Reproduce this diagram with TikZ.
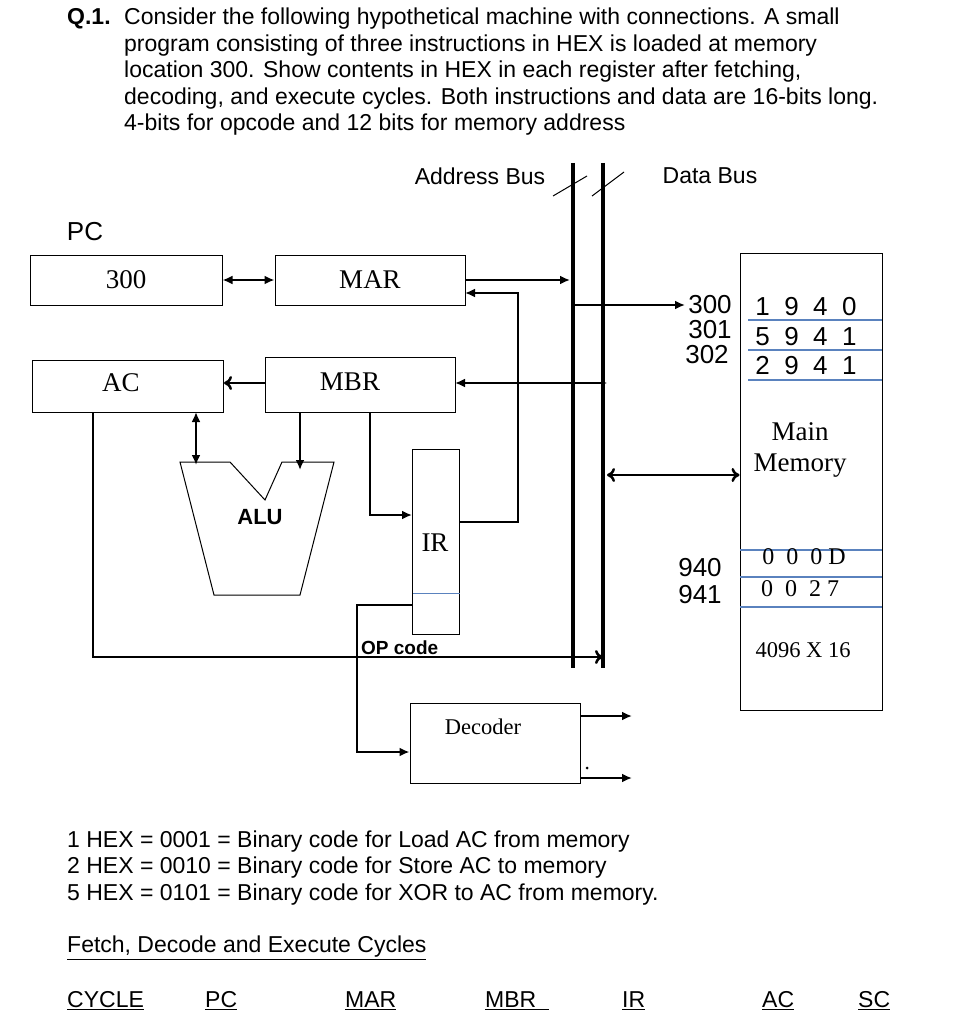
\documentclass[tikz,border=0pt]{standalone}
\usepackage{fontspec}
\setmainfont{Liberation Serif}
\newfontfamily\sans{Liberation Sans}
\usetikzlibrary{arrows.meta}
\begin{document}
\begin{tikzpicture}[x=1pt,y=-1pt,
  reg/.style={draw,line width=1pt,inner sep=0},
  ln/.style={line width=2.5pt},
  bus/.style={line width=4.5pt},
  blue/.style={draw={rgb,255:red,90;green,130;blue,190},line width=2pt},
  sa/.style={ln,-{Latex[length=10pt,width=9pt]}},
  oa/.style={ln,-{To[length=8pt,width=14pt]}},
  st/.style={font=\sans\fontsize{23}{26.5}\selectfont,inner sep=0,anchor=west},
  big/.style={font=\sans\fontsize{26}{30}\selectfont,inner sep=0,anchor=center},
  rt/.style={font=\fontsize{27}{31}\selectfont,inner sep=0}]
\useasboundingbox (0,0) rectangle (961,1024);
% title
\node[st,anchor=north west] (q) at (67,8) {\textbf{Q.1.}};
\node[st,anchor=north west,align=left] (qt) at (124,8) {Consider the following hypothetical machine with connections. A small\\program consisting of three instructions in HEX is loaded at memory\\location 300. Show contents in HEX in each register after fetching,\\decoding, and execute cycles. Both instructions and data are 16-bits long.\\4-bits for opcode and 12 bits for memory address};
\node[st,anchor=center] (ab) at (480,176) {Address Bus};
\node[st,anchor=center] (db) at (710,176) {Data Bus};
\node[big] (pcl) at (85,232) {PC};
% buses
\coordinate (a1) at (573,163); \coordinate (a2) at (573,668);
\coordinate (d1) at (603,163); \coordinate (d2) at (603,668);
\draw[bus] (a1) -- (a2); \draw[bus] (d1) -- (d2);
\coordinate (s1) at (553,196); \coordinate (s2) at (587,176);
\coordinate (s3) at (592,196); \coordinate (s4) at (624,172);
\draw[line width=1pt] (s1) -- (s2); \draw[line width=1pt] (s3) -- (s4);
% registers
\node[reg,minimum width=192pt,minimum height=50pt,rt] (pc) at (126,280) {300};
\node[reg,minimum width=190pt,minimum height=50pt,rt] (mar) at (370,280) {MAR};
\node[reg,minimum width=191pt,minimum height=52pt] (ac) at (128,386) {};
\node[rt] (acl) at (121,383) {AC};
\node[reg,minimum width=190pt,minimum height=55pt] (mbr) at (360,385) {};
\node[rt] (mbrl) at (350,382) {MBR};
\node[reg,minimum width=47pt,minimum height=185pt] (ir) at (436,542) {};
\node[rt] (irl) at (435,543) {IR};
\coordinate (irb1) at (413,593); \coordinate (irb2) at (460,593);
\draw[blue,line width=1pt] (irb1) -- (irb2);
\node[reg,minimum width=170pt,minimum height=80pt] (dec) at (495,743) {};
\node[rt,font=\fontsize{22.5}{26}\selectfont] (decl) at (483,727) {Decoder};
% ALU
\draw[line width=1pt] (180,462) -- (230,462) -- (265,500) -- (282,462) -- (334,462) -- (300,595) -- (214,595) -- cycle;
\node[st,anchor=center,font=\sans\bfseries\fontsize{22}{26}\selectfont] (alu) at (260,517) {ALU};
% connections
\draw[ln,{Latex[length=10pt,width=9pt]}-{Latex[length=10pt,width=9pt]}] (pc.east) -- (mar.west);
\coordinate (mb) at (570,280);
\draw[sa] (mar.east) -- (mb);
\coordinate (ir1) at (518,522); \coordinate (ir2) at (518,293);
\draw[sa] (460,522) -- (ir1) -- (ir2) -- (465,293);
\draw[oa] (mbr.west |- 0,383) -- (ac.east |- 0,383);
\coordinate (dmb) at (607,383);
\draw[ln,{Latex[length=10pt,width=9pt]}-{Latex[length=6pt,width=6pt]}] (455,383) -- (dmb);
\draw[ln,{Latex[length=10pt,width=9pt]}-{Latex[length=10pt,width=9pt]}] (196,412) -- (196,465);
\draw[sa] (300,412) -- (300,470);
\coordinate (m1) at (370,515);
\draw[sa] (370,412) -- (m1) -- (ir.west |- m1);
\coordinate (o1) at (357,605); \coordinate (o2) at (357,752);
\draw[sa] (ir.west |- o1) -- (o1) -- (o2) -- (dec.west |- o2);
\node[st,font=\sans\bfseries\fontsize{19}{22}\selectfont] (op) at (361,648) {OP code};
\coordinate (c1) at (93,657); \coordinate (c2) at (603,657);
\draw[oa] (93,412) -- (c1) -- (c2);
\coordinate (do1) at (632,716); \coordinate (do2) at (632,778);
\draw[sa] (dec.east |- do1) -- (do1);
\draw[sa] (dec.east |- do2) -- (do2);
\fill (587,768) circle (1.5pt);
% memory
\node[reg,minimum width=142pt,minimum height=457pt] (mem) at (811,482) {};
\coordinate (m300) at (685,305);
\draw[sa] (573,305) -- (m300);
\draw[ln,{To[length=8pt,width=14pt]}-{To[length=8pt,width=14pt]}] (607,475) -- (mem.west |- 0,475);
\foreach \y in {320,350,380} \draw[blue] (748,\y) -- (882,\y);
\foreach \y in {550,577,607} \draw[blue] (740,\y) -- (882,\y);
\node[big] (a300) at (710,305) {300};
\node[big] (a301) at (710,330) {301};
\node[big] (a302) at (707,355) {302};
\node[big] (v300) at (806,307) {1\ \ 9\ \ 4\ \ 0};
\node[big] (v301) at (806,337) {5\ \ 9\ \ 4\ \ 1};
\node[big] (v302) at (806,366) {2\ \ 9\ \ 4\ \ 1};
\node[rt,align=center] (mm) at (800,450) {Main\\Memory};
\node[big] (a940) at (700,568) {940};
\node[big] (a941) at (700,595) {941};
\node[rt,font=\fontsize{24}{28}\selectfont] (v940) at (804,557) {0\ \ 0\ \ 0 D};
\node[rt,font=\fontsize{24}{28}\selectfont] (v941) at (800,589) {0\ \ 0\ \ 2 7};
\node[rt,font=\fontsize{22.5}{26}\selectfont] (sz) at (803,650) {4096 X 16};
% bottom text
\node[st,anchor=west,align=left] (codes) at (67,868) {1 HEX = 0001 = Binary code for Load AC from memory\\2 HEX = 0010 = Binary code for Store AC to memory\\5 HEX = 0101 = Binary code for XOR to AC from memory.};
\node[st] (fd) at (67,948) {\underline{Fetch, Decode and Execute Cycles}};
\node[st] (h1) at (67,1001) {\underline{CYCLE}};
\node[st] (h2) at (205,1001) {\underline{PC}};
\node[st] (h3) at (345,1001) {\underline{MAR}};
\node[st] (h4) at (485,1001) {\underline{MBR\ \ }};
\node[st] (h5) at (622,1001) {\underline{IR}};
\node[st] (h6) at (762,1001) {\underline{AC}};
\node[st] (h7) at (858,1001) {\underline{SC}};
\end{tikzpicture}
\end{document}
